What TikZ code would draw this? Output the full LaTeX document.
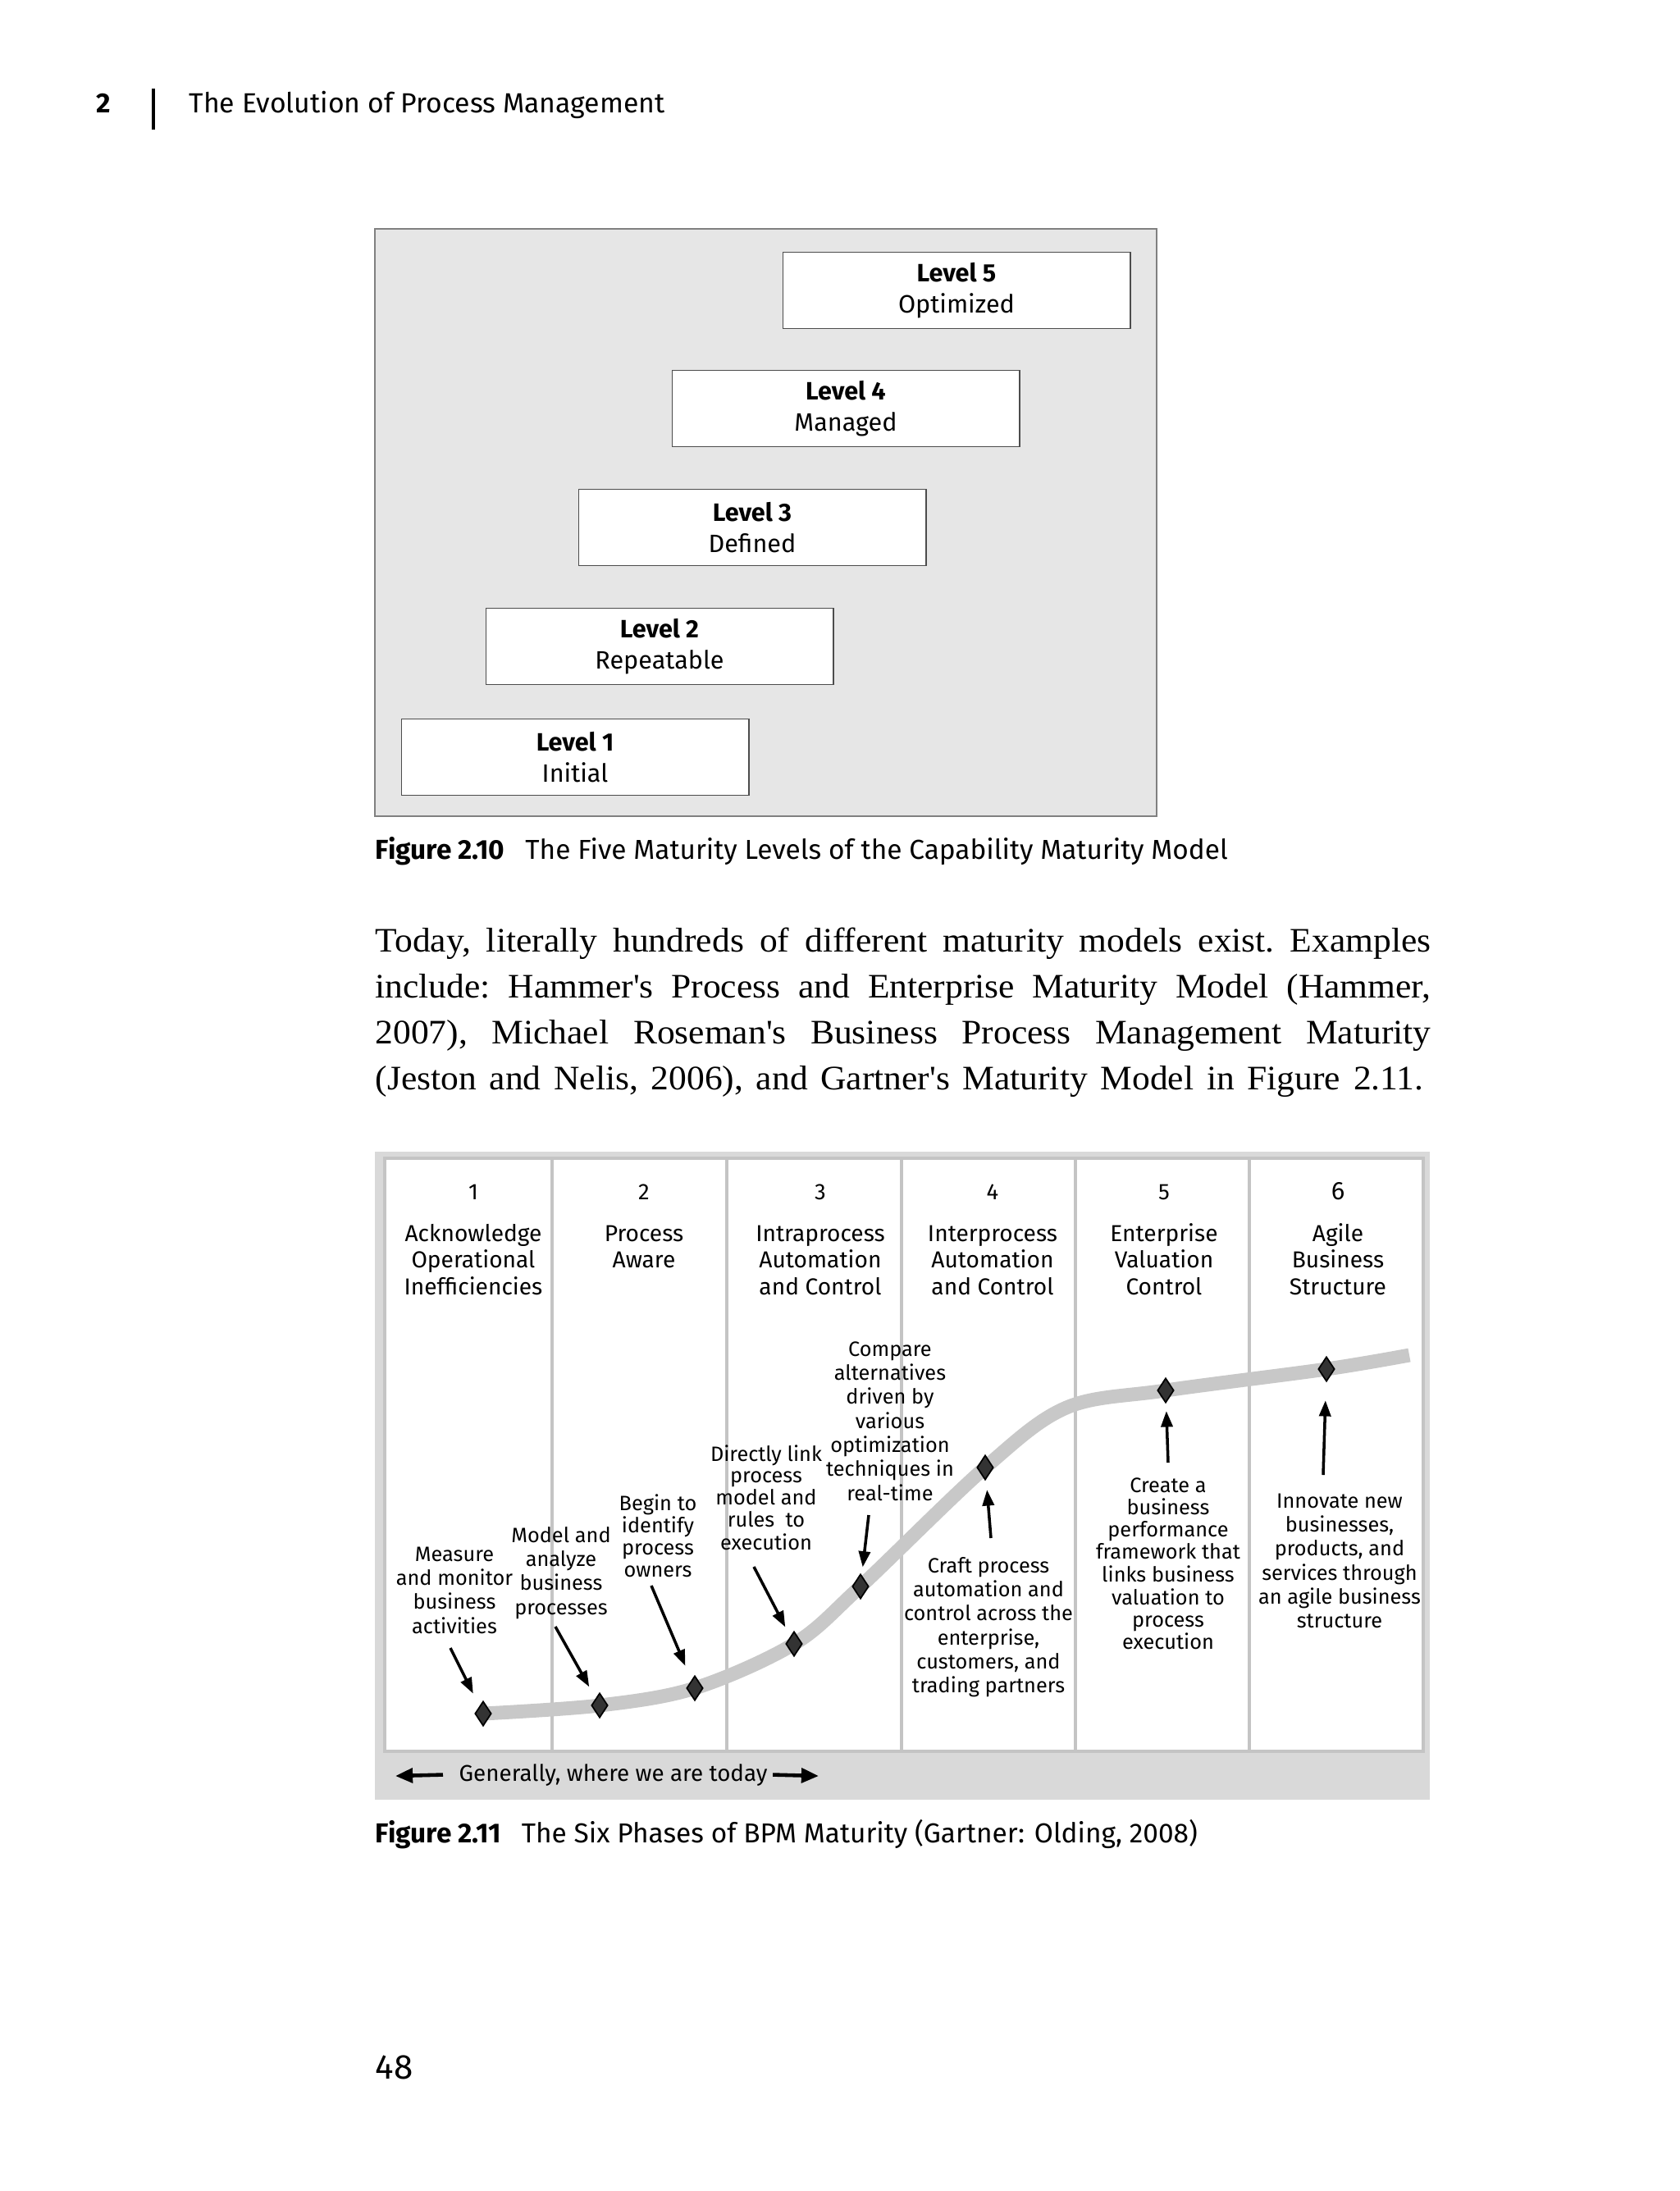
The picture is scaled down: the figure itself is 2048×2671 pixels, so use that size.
\documentclass[tikz,border=0pt]{standalone}
\usepackage{fontspec}
\setmainfont[FakeStretch=1.04]{Liberation Serif}
\setsansfont{Fira Sans}
\usetikzlibrary{arrows.meta,positioning,shapes.geometric}
\definecolor{panelgray}{HTML}{E6E6E6}
\definecolor{bandgray}{HTML}{D9D9D9}
\definecolor{rulegray}{HTML}{C4C4C4}
\definecolor{curvegray}{HTML}{C8C8C8}
\definecolor{markgray}{HTML}{333333}
\newcommand{\fsz}[2]{\fontsize{#1}{#2}\selectfont}
\newcommand{\stack}[1]{\begin{tabular}[t]{@{}c@{}}#1\end{tabular}}

\begin{document}
\begin{tikzpicture}[
    x=0.01cm, y=-0.01cm,
    lvl/.style={draw=black!70, line width=0.5pt, fill=white, minimum width=4.23cm, minimum height=0.93cm, align=center, inner sep=0pt, font=\sffamily\fsz{8.7}{10.8}},
    colnum/.style={anchor=base, inner sep=0pt, font=\sffamily\fsz{7.8}{9.25}},
    coltitle/.style={anchor=base, inner sep=0pt, font=\sffamily\fsz{8}{9.25}},
    note/.style={anchor=base, inner sep=0pt, font=\sffamily\fsz{7.2}{8.35}},
    tight/.style={font=\sffamily\fsz{7.2}{7.6}},
    bodyline/.style={anchor=base west, inner sep=0pt, font=\rmfamily\frenchspacing\fsz{11.9}{15.9}},
    caption/.style={anchor=base west, inner sep=0pt, font=\sffamily\fsz{9.5}{11}},
    milestone/.style={diamond, draw=black, line width=0.5pt, fill=markgray, minimum width=0.2cm, minimum height=0.3cm, inner sep=0pt},
    pointer/.style={-{Triangle[length=5.5pt,width=4pt]}, line width=1pt},
    fatarrow/.style={-{Triangle[length=6pt,width=5pt]}, line width=1.3pt},
    divider/.style={draw=rulegray, line width=0.9pt},
  ]
  \fill[white] (0,0) rectangle (2048,2671);
  \useasboundingbox (0,0) rectangle (2048,2671);

  % running head
  \node[anchor=base, inner sep=0pt, font=\sffamily\bfseries\fsz{9.6}{11}] (chapnum) at (126,137) {2};
  \draw[line width=1.1pt] (187,108) -- (187,158);
  \node[anchor=base west, inner sep=0pt, font=\sffamily\fsz{9.6}{11}] (runhead) at (230,137) {The Evolution of Process Management};

  % figure 2.10
  \draw[draw=black!50, fill=panelgray, line width=0.5pt] (457,279) rectangle (1410,995);
  \node[lvl] (lvl5) at (1166,354) {\textbf{Level 5}\\Optimized};
  \node[lvl] (lvl4) at (1031,498) {\textbf{Level 4}\\Managed};
  \node[lvl] (lvl3) at (917,643) {\textbf{Level 3}\\Defined};
  \node[lvl] (lvl2) at (804,788) {\textbf{Level 2}\\Repeatable};
  \node[lvl] (lvl1) at (701,923) {\textbf{Level 1}\\Initial};
  \node[caption] (cap10) at (457,1047) {\textbf{Figure 2.10}\hspace{0.75em}The Five Maturity Levels of the Capability Maturity Model};

  % body text
  \node[bodyline] (body1) at (457,1160) {\makebox[12.86cm][s]{Today, literally hundreds of different maturity models exist. Examples}};
  \node[bodyline] (body2) at (457,1216) {\makebox[12.86cm][s]{include: Hammer\textquotesingle s Process and Enterprise Maturity Model (Hammer,}};
  \node[bodyline] (body3) at (457,1272) {\makebox[12.86cm][s]{2007), Michael Roseman\textquotesingle s Business Process Management Maturity}};
  \node[bodyline] (body4) at (457,1328) {\makebox[12.77cm][s]{(Jeston and Nelis, 2006), and Gartner\textquotesingle s Maturity Model in Figure 2.11.}};

  % figure 2.11
  \fill[bandgray] (457,1404) rectangle (1743,2194);
  \draw[draw=rulegray, fill=white, line width=0.9pt] (469,1412) rectangle (1735,2135);
  \foreach \x in {673,886,1099,1311,1523}
    \draw[divider] (\x,1412) -- (\x,2135);

  \foreach \cx/\n/\ttl [count=\i] in {
      577/1/{Acknowledge\\Operational\\Inefficiencies},
      785/2/{Process\\Aware},
      1000/3/{Intraprocess\\Automation\\and Control},
      1210/4/{Interprocess\\Automation\\and Control},
      1419/5/{Enterprise\\Valuation\\Control},
      1631/{\fsz{8.8}{10}6}/{Agile\\Business\\Structure}} {
    \node[colnum] (num\i) at (\cx,1462) {\n};
    \node[coltitle] (phase\i) at (\cx,1513) {\stack{\ttl}};
  }

  % maturity curve
  \coordinate (p1) at (589,2089);
  \coordinate (p2) at (731,2079);
  \coordinate (p3) at (847,2058);
  \coordinate (p4) at (968,2004);
  \coordinate (p5) at (1049,1934);
  \coordinate (p6) at (1201,1789);
  \coordinate (p7) at (1300,1716);
  \coordinate (p8) at (1421,1695);
  \coordinate (p9) at (1617,1669);
  \coordinate (p10) at (1718,1652);
  \draw[curvegray, line width=4.8pt] plot[smooth, tension=0.55] coordinates {(p1) (p2) (p3) (p4) (p5) (p6) (p7) (p8) (p9) (p10)};
  \foreach \p [count=\i] in {p1,p2,p3,p4,p5,p6,p8,p9}
    \node[milestone] (d\i) at (\p) {};

  % notes
  \node[note] (n1) at (554,1903) {\stack{Measure\\and monitor\\business\\activities}};
  \node[note] (n2) at (684,1880) {\stack{Model and\\analyze\\business\\processes}};
  \node[note, tight] (n3) at (802,1841) {\stack{Begin to\\identify\\process\\owners}};
  \node[note, tight] (n4) at (934,1781) {\stack{Directly link\\process\\model and\\rules\ \ to\\execution}};
  \node[note] (n5) at (1085,1653) {\stack{Compare\\alternatives\\driven by\\various\\optimization\\techniques in\\real-time}};
  \node[note] (n6) at (1205,1917) {\stack{Craft process\\automation and\\control across the\\enterprise,\\customers, and\\trading partners}};
  \node[note, tight] (n7) at (1424,1819) {\stack{Create a\\business\\performance\\framework that\\links business\\valuation to\\process\\execution}};
  \node[note] (n8) at (1633,1838) {\stack{Innovate new\\businesses,\\products, and\\services through\\an agile business\\structure}};

  \coordinate (t1) at (549,2009);
  \coordinate (t2) at (677,1983);
  \coordinate (t3) at (794,1933);
  \coordinate (t4) at (919,1910);
  \coordinate (t5) at (1059,1847);
  \coordinate (t6) at (1208,1875);
  \coordinate (t7) at (1424,1783);
  \coordinate (t8) at (1613,1798);
  \foreach \i/\gap in {1/0.17,2/0.16,3/0.19,4/0.13,5/0.10,6/0.13,7/0.10,8/0.23}
    \draw[pointer, shorten >=\gap cm] (t\i) -- (d\i);

  \node[anchor=base west, inner sep=0pt, font=\sffamily\fsz{7.9}{9}] (today) at (559,2171) {Generally, where we are today};
  \coordinate (todayL) at (482,2165);
  \coordinate (todayR) at (998,2165);
  \draw[fatarrow] ([xshift=-0.19cm]today.west) -- (todayL);
  \draw[fatarrow] ([xshift=0.06cm]today.east) -- (todayR);

  \node[caption] (cap11) at (457,2246) {\textbf{Figure 2.11}\hspace{0.75em}The Six Phases of BPM Maturity (Gartner: Olding, 2008)};

  % folio
  \node[anchor=base west, inner sep=0pt, font=\sffamily\fsz{12}{14}] (folio) at (457,2534) {48};
\end{tikzpicture}
\end{document}
